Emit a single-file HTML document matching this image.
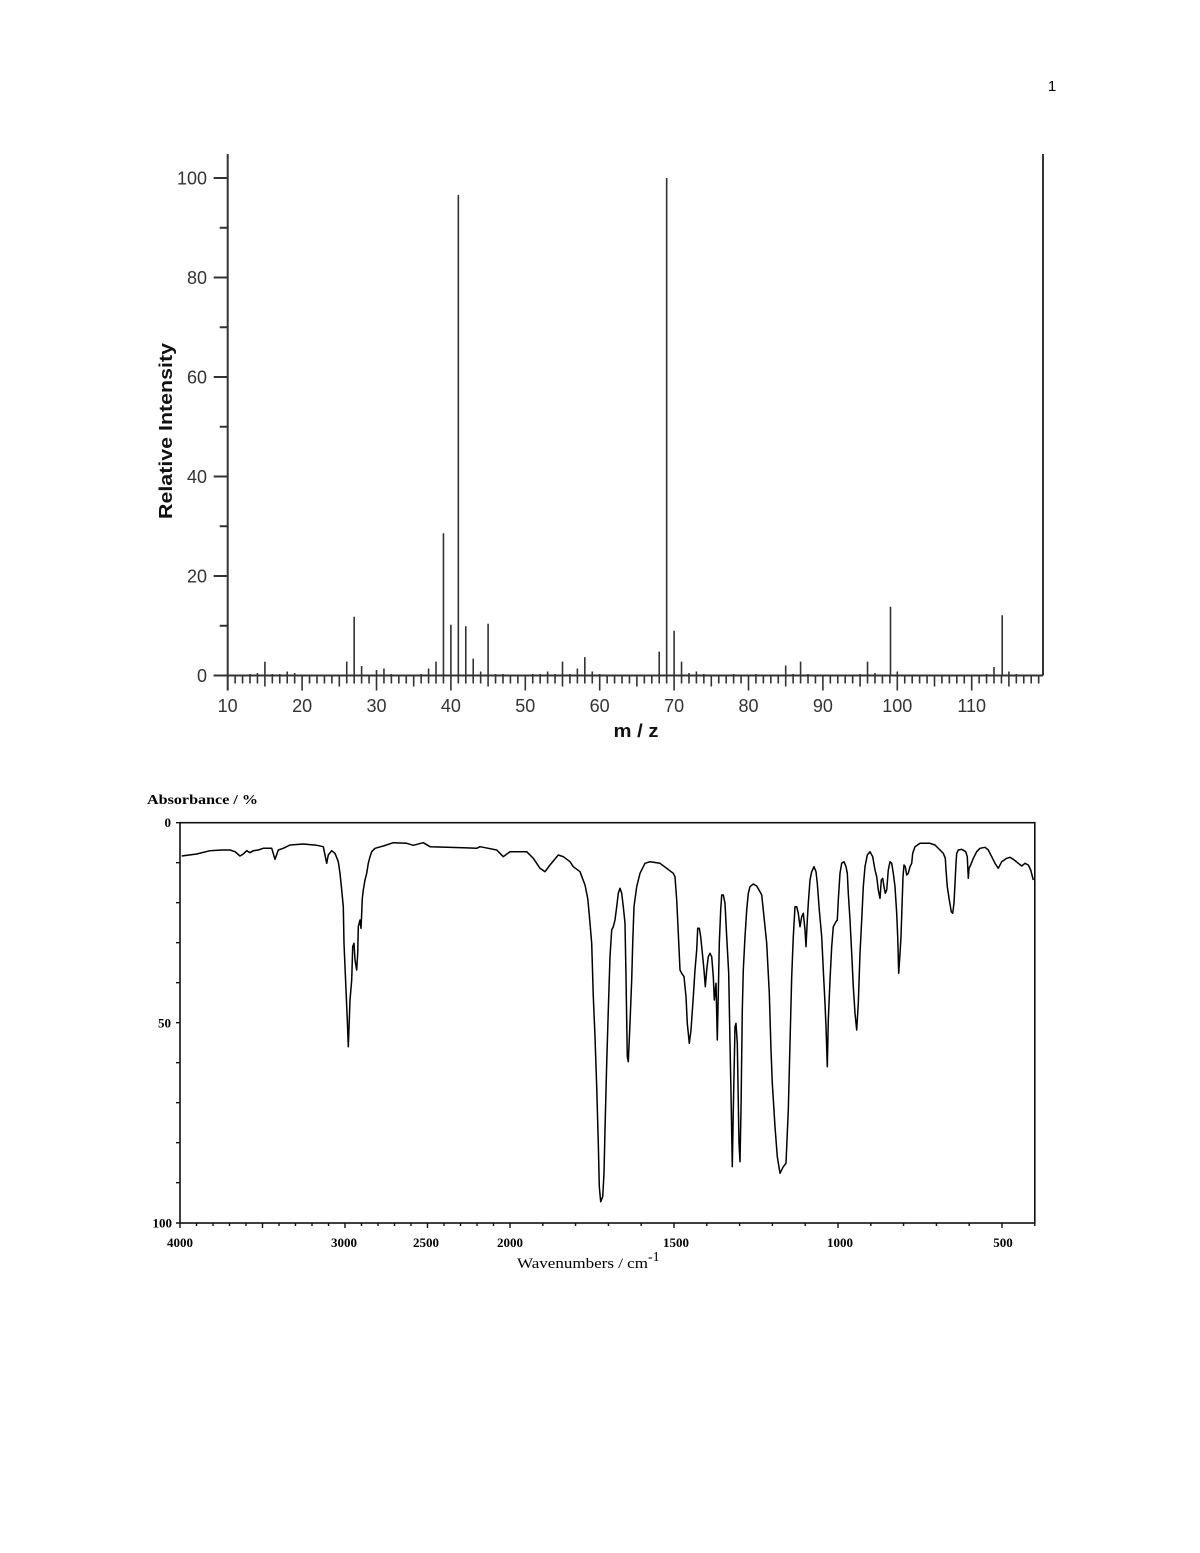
<!DOCTYPE html>
<html><head><meta charset="utf-8"><style>
html,body{margin:0;padding:0;background:#fff;}
svg{display:block;}
</style></head><body>
<svg width="1200" height="1553" viewBox="0 0 1200 1553" xmlns="http://www.w3.org/2000/svg">
<rect width="1200" height="1553" fill="#fff"/>
<text x="1052" y="91" font-family="Liberation Sans, sans-serif" font-size="15" text-anchor="middle" fill="#000">1</text>

<!-- ===== Mass spectrum ===== -->
<g stroke="#333" stroke-width="2" fill="none">
<path d="M227.7 154 V690.5 M213.7 675.5 H1043 M1043 154 V675.5"/>
<path d="M213.7 675.5H227.7 M219.7 625.75H227.7 M213.7 576H227.7 M219.7 526.25H227.7 M213.7 476.5H227.7 M219.7 426.75H227.7 M213.7 377H227.7 M219.7 327.25H227.7 M213.7 277.5H227.7 M219.7 227.75H227.7 M213.7 178H227.7"/>
</g>
<g stroke="#333" stroke-width="1.6" fill="none">
<path d="M235.14 675.5V683.5M242.58 675.5V683.5M250.02 675.5V683.5M257.46 675.5V683.5M264.9 675.5V686.5M272.34 675.5V683.5M279.78 675.5V683.5M287.22 675.5V683.5M294.66 675.5V683.5M302.1 675.5V690.5M309.54 675.5V683.5M316.98 675.5V683.5M324.42 675.5V683.5M331.86 675.5V683.5M339.3 675.5V686.5M346.74 675.5V683.5M354.18 675.5V683.5M361.62 675.5V683.5M369.06 675.5V683.5M376.5 675.5V690.5M383.94 675.5V683.5M391.38 675.5V683.5M398.82 675.5V683.5M406.26 675.5V683.5M413.7 675.5V686.5M421.14 675.5V683.5M428.58 675.5V683.5M436.02 675.5V683.5M443.46 675.5V683.5M450.9 675.5V690.5M458.34 675.5V683.5M465.78 675.5V683.5M473.22 675.5V683.5M480.66 675.5V683.5M488.1 675.5V686.5M495.54 675.5V683.5M502.98 675.5V683.5M510.42 675.5V683.5M517.86 675.5V683.5M525.3 675.5V690.5M532.74 675.5V683.5M540.18 675.5V683.5M547.62 675.5V683.5M555.06 675.5V683.5M562.5 675.5V686.5M569.94 675.5V683.5M577.38 675.5V683.5M584.82 675.5V683.5M592.26 675.5V683.5M599.7 675.5V690.5M607.14 675.5V683.5M614.58 675.5V683.5M622.02 675.5V683.5M629.46 675.5V683.5M636.9 675.5V686.5M644.34 675.5V683.5M651.78 675.5V683.5M659.22 675.5V683.5M666.66 675.5V683.5M674.1 675.5V690.5M681.54 675.5V683.5M688.98 675.5V683.5M696.42 675.5V683.5M703.86 675.5V683.5M711.3 675.5V686.5M718.74 675.5V683.5M726.18 675.5V683.5M733.62 675.5V683.5M741.06 675.5V683.5M748.5 675.5V690.5M755.94 675.5V683.5M763.38 675.5V683.5M770.82 675.5V683.5M778.26 675.5V683.5M785.7 675.5V686.5M793.14 675.5V683.5M800.58 675.5V683.5M808.02 675.5V683.5M815.46 675.5V683.5M822.9 675.5V690.5M830.34 675.5V683.5M837.78 675.5V683.5M845.22 675.5V683.5M852.66 675.5V683.5M860.1 675.5V686.5M867.54 675.5V683.5M874.98 675.5V683.5M882.42 675.5V683.5M889.86 675.5V683.5M897.3 675.5V690.5M904.74 675.5V683.5M912.18 675.5V683.5M919.62 675.5V683.5M927.06 675.5V683.5M934.5 675.5V686.5M941.94 675.5V683.5M949.38 675.5V683.5M956.82 675.5V683.5M964.26 675.5V683.5M971.7 675.5V690.5M979.14 675.5V683.5M986.58 675.5V683.5M994.02 675.5V683.5M1001.46 675.5V683.5M1008.9 675.5V686.5M1016.34 675.5V683.5M1023.78 675.5V683.5M1031.22 675.5V683.5M1038.66 675.5V683.5"/>
<path d="M250.02 675.5V674M257.46 675.5V673M264.9 675.5V661.6M272.34 675.5V674M279.78 675.5V674M287.22 675.5V671.5M294.66 675.5V673M346.74 675.5V661.6M354.18 675.5V616.8M361.62 675.5V666M376.5 675.5V670M383.94 675.5V668.5M391.38 675.5V674M421.14 675.5V674M428.58 675.5V668.5M436.02 675.5V661.6M443.46 675.5V533.2M450.9 675.5V624.8M458.34 675.5V194.9M465.78 675.5V626.2M473.22 675.5V658.6M480.66 675.5V671.5M488.1 675.5V623.8M495.54 675.5V674M502.98 675.5V674M532.74 675.5V674M540.18 675.5V674M547.62 675.5V671.5M555.06 675.5V674M562.5 675.5V661.6M569.94 675.5V674M577.38 675.5V668.5M584.82 675.5V657.1M592.26 675.5V671.5M599.7 675.5V674M659.22 675.5V651.6M666.66 675.5V178M674.1 675.5V630.7M681.54 675.5V661.6M688.98 675.5V673M696.42 675.5V671.5M703.86 675.5V674M733.62 675.5V674M755.94 675.5V674M785.7 675.5V665.5M793.14 675.5V674M800.58 675.5V661.6M808.02 675.5V674M860.1 675.5V674M867.54 675.5V661.6M874.98 675.5V673M890.5 675.5V606.8M897.3 675.5V671.5M986.58 675.5V674M994.02 675.5V667M1002.2 675.5V615.3M1008.9 675.5V671.5M1016.34 675.5V674"/>
</g>
<g font-family="Liberation Sans, sans-serif" font-size="18" fill="#333">
<g text-anchor="end">
<text x="207" y="682">0</text>
<text x="207" y="582.5">20</text>
<text x="207" y="483">40</text>
<text x="207" y="383.5">60</text>
<text x="207" y="284">80</text>
<text x="207" y="184.5">100</text>
</g>
<g text-anchor="middle">
<text x="227.7" y="712">10</text>
<text x="302.1" y="712">20</text>
<text x="376.5" y="712">30</text>
<text x="450.9" y="712">40</text>
<text x="525.3" y="712">50</text>
<text x="599.7" y="712">60</text>
<text x="674.1" y="712">70</text>
<text x="748.5" y="712">80</text>
<text x="822.9" y="712">90</text>
<text x="897.3" y="712">100</text>
<text x="971.7" y="712">110</text>
</g>
</g>
<text x="636" y="737" font-family="Liberation Sans, sans-serif" font-size="18" font-weight="bold" fill="#111" text-anchor="middle" textLength="45" lengthAdjust="spacingAndGlyphs">m / z</text>
<text transform="translate(172,431) rotate(-90)" x="0" y="0" font-family="Liberation Sans, sans-serif" font-size="18" font-weight="bold" fill="#111" text-anchor="middle" textLength="176" lengthAdjust="spacingAndGlyphs">Relative Intensity</text>

<!-- ===== IR spectrum ===== -->
<text x="147" y="804" font-family="Liberation Serif, serif" font-size="14" font-weight="bold" fill="#000" textLength="111" lengthAdjust="spacingAndGlyphs">Absorbance / %</text>
<rect x="180" y="822.7" width="854.8" height="400.3" fill="none" stroke="#111" stroke-width="1.6"/>
<g stroke="#111" stroke-width="1.4" fill="none">
<path d="M176 822.7H180M176 862.7H180M176 902.7H180M176 942.7H180M176 982.7H180M176 1022.7H180M176 1062.7H180M176 1102.7H180M176 1142.7H180M176 1182.7H180M176 1223H180"/>
<path d="M180 1223V1228M196.5 1223V1226M213 1223V1226M229.5 1223V1226M246 1223V1226M262.5 1223V1228M279 1223V1226M295.5 1223V1226M312 1223V1226M328.5 1223V1226M345 1223V1228M361.5 1223V1226M378 1223V1226M394.5 1223V1226M411 1223V1226M427.5 1223V1228M444 1223V1226M460.5 1223V1226M477 1223V1226M493.5 1223V1226M510 1223V1228M542.8 1223V1226M575.6 1223V1226M608.4 1223V1226M641.2 1223V1226M674 1223V1228M706.8 1223V1226M739.6 1223V1226M772.4 1223V1226M805.2 1223V1226M838 1223V1228M870.8 1223V1226M903.6 1223V1226M936.4 1223V1226M969.2 1223V1226M1002 1223V1228M1034.8 1223V1226"/>
</g>
<polyline fill="none" stroke="#000" stroke-width="1.5" stroke-linejoin="round" points="181.7,856 196.7,854 210,850.7 221.7,850 230,850 235,851.7 240,856 243.3,854 246.7,850.7 250,852.7 253.3,850.7 258.3,850 263.3,848.3 271.7,848.3 275,859.3 278.3,850 283.3,848.3 290,845 303.3,844 316.7,845.3 323.3,846.7 326.7,863.3 328.3,855 331.7,850.7 335,853.3 338.3,861.7 340,873.3 341.7,890 343.3,906.7 344,943.3 345,966.7 346,990 347.3,1020 348.3,1046.7 349.3,1020 350,1000 351.7,980 352.7,946.7 354,943.3 355,960 356.7,970 357.7,953.3 358.3,926.7 360,920 361,928.3 361.7,913.3 362.3,898.3 363.3,890 365,880 366.7,873.3 368.3,863.3 370,856.7 371.7,851.7 375,848.3 383.3,846 393.3,842.7 406.7,843.3 413.3,845.3 423.3,842.7 430,846.7 446.7,847.3 463.3,847.7 476.7,848.3 480,846.7 488.3,848.3 496.7,850 503.3,856.7 510,851.7 526.7,851.7 533.3,858.3 540,868.3 545,871.7 550,865 558.3,855 563.3,856.7 570,861.7 573.3,866.7 580,871.7 585,885 587.7,898.3 589.3,915 591.7,943.3 593.3,996.7 595,1036.7 596.7,1086.7 598.3,1143.3 599.3,1186.7 600.7,1201.7 602.7,1196.7 604,1173.3 605,1130 606.7,1063.3 608.3,1010 610,956.7 611.7,930 613.3,926.7 615,920 616.7,906.7 618.3,893.3 620,888.3 621.7,893.3 623.3,906.7 625,923.3 626,976.7 627.3,1056.7 628.3,1061.7 630,1023.3 631.7,980 632.7,943.3 634,906.7 636.7,886.7 640,873.3 645,863.3 650,861.7 660,863.3 666.7,868.3 673.3,873.3 675,876.7 676.7,900 678.3,933.3 680,970 681.7,973.3 684,976.7 686,996.7 687.3,1023.3 689.3,1043.3 691,1030 693.3,996.7 695,970 696.7,950 697.7,928.3 699.3,928.3 700.7,936.7 702.7,956.7 704,970 705.3,986.7 706.7,970 708.3,956.7 710,953.3 711.7,956.7 713.3,976.7 714.3,1000 716,983.3 717.3,1040 718.3,993.3 719.3,943.3 720.7,910 721.7,895 723.3,895 725,903.3 726.7,936.7 728.7,973.3 730,1043.3 731,1093.3 732.3,1166.7 733.3,1110 735,1026.7 736,1023.3 737.3,1043.3 739,1143.3 740,1161.7 741,1110 742.3,1010 743.3,970 745,936.7 746.7,910 748.3,893.3 750,886.7 753.3,884 756.7,886 760,891.7 761.7,895 763.3,910 766.7,943.3 769.3,993.3 771,1050 772.3,1083.3 775,1126.7 777.3,1156.7 780,1173.3 783.3,1166.7 786,1163.3 788.3,1110 790,1043.3 791.7,976.7 793.3,936.7 795,906.7 796.7,906.7 798.3,913.3 800,926.7 801.7,916.7 803.3,913.3 805,930 806,946.7 807.3,920 808.3,903.3 810,880 811.7,871.7 814,866.7 816,871.7 817.3,883.3 819.3,910 821.7,936.7 823.3,970 825,1003.3 826,1026.7 827.3,1066.7 828.3,1020 830,980 831.7,946.7 833.3,926.7 836,921.7 837.3,920 838.3,900 840,873.3 841.7,863.3 844,861.7 846,866.7 847.3,873.3 848.3,893.3 850,920 851.7,953.3 853.3,986.7 855,1013.3 856.7,1030 858.3,1003.3 860,953.3 861.7,920 863.3,886.7 865,866.7 867.3,855 870,851.7 872.7,856.7 875,870 876.7,876.7 878.3,890 880,898.3 881.3,880 882.7,878.3 884,886.7 885.3,893.3 886.7,890 888.3,870 890,861.7 891.7,863.3 893.3,873.3 895,886.7 896.7,913.3 897.7,936.7 898.7,973.3 900,953.3 901,936.7 902,906.7 903,876.7 904,865 905.3,866.7 906.7,875 908.3,873.3 910,866.7 911.7,863.3 912.7,853.3 915,846.7 920,843.3 930,843.3 935,845 940,850 943.3,853.3 945.3,858.3 946,870 947.3,886.7 949.3,900 951.3,911.7 952.7,913.3 954,903.3 955,883.3 956,863.3 956.7,853.3 958.3,850 961.7,849.3 964,850.7 965.7,851.7 967.3,856.7 968.3,878.3 969,868.3 970.7,865 973.3,858.3 976.7,851.7 980,848.3 985,847.3 988.3,850 991.7,856.7 995,863.3 998.3,868.3 1001.7,861.7 1006.7,858.3 1010,857.3 1013.3,859.3 1018.3,863.3 1021.7,866 1025,863.3 1028.3,865 1030.7,870 1033.3,880"/>
<g font-family="Liberation Serif, serif" font-size="13" font-weight="bold" fill="#000">
<g text-anchor="end">
<text x="171" y="827">0</text>
<text x="171" y="1027.5">50</text>
<text x="172" y="1227.5">100</text>
</g>
<g text-anchor="middle">
<text x="180" y="1247">4000</text>
<text x="344" y="1247">3000</text>
<text x="426" y="1247">2500</text>
<text x="510" y="1247">2000</text>
<text x="676" y="1247">1500</text>
<text x="840" y="1247">1000</text>
<text x="1003" y="1247">500</text>
</g>
</g>
<text x="517" y="1268" font-family="Liberation Serif, serif" font-size="15" fill="#000" textLength="131" lengthAdjust="spacingAndGlyphs">Wavenumbers / cm</text>
<text x="648" y="1261" font-family="Liberation Serif, serif" font-size="14" fill="#000">-1</text>
</svg>
</body></html>
